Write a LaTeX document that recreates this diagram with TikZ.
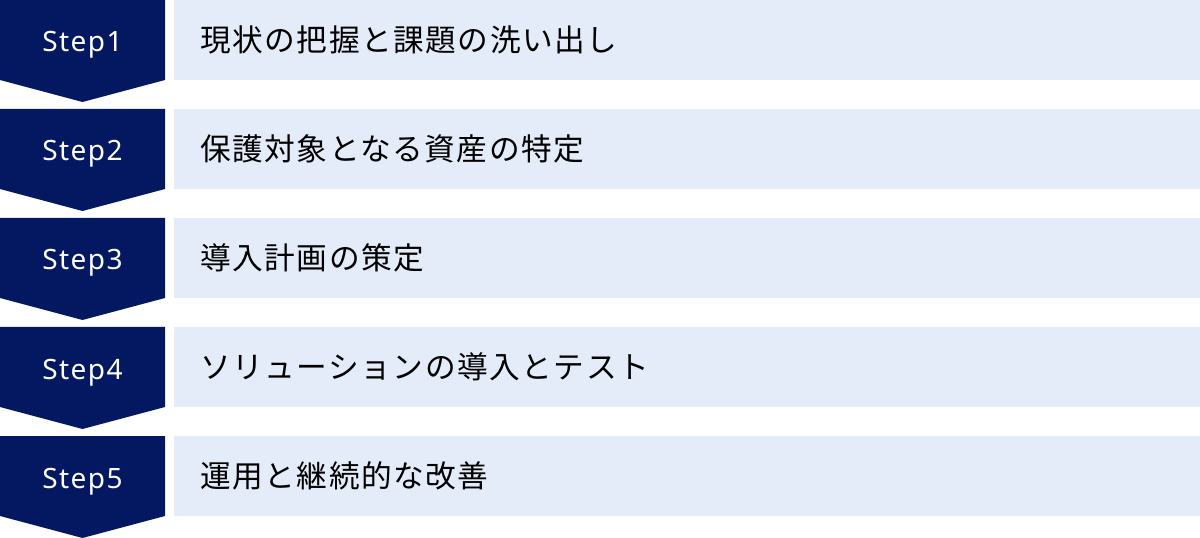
\documentclass[tikz,border=0pt]{standalone}
\usepackage{fontspec}
\setmainfont{Noto Sans}
\newfontfamily\jpfont[LetterSpace=5]{Noto Sans CJK JP}
\newfontfamily\stepfont[LetterSpace=5]{Noto Sans}
\usetikzlibrary{positioning}
\definecolor{stepnavy}{RGB}{3,24,96}
\definecolor{rowblue}{RGB}{229,236,249}
\def\dw{165}
\def\dh{80}
\tikzstyle{chevron}=[fill=stepnavy]
\tikzstyle{rowbox}=[fill=rowblue]
\tikzstyle{steplabel}=[anchor=base,text=white,inner sep=0pt,
  font=\stepfont\fontsize{21pt}{25pt}\selectfont]
\tikzstyle{rowtext}=[anchor=base west,text=black,inner sep=0pt,
  font=\jpfont\fontsize{23pt}{27pt}\selectfont]
\newcommand{\newStep}[4]{%
  \fill[chevron] (0,#4) -- ++(\dw,0) -- ++(0,\dh) -- ++(-82.5,22) -- ++(-82.5,-22) -- cycle;
  \fill[rowbox] (174,#4) rectangle ++(1026,\dh);
  \node[steplabel] (s#1) at (82.5,#4+52) {#2};
  \node[rowtext] (t#1) at (200,#4+51.5) {#3};}

\begin{document}
\begin{tikzpicture}[x=0.75pt,y=-0.75pt]
      \useasboundingbox (0,0) rectangle (1200,538);
      \newStep{1}{Step1}{現状の把握と課題の洗い出し}{0}
      \newStep{2}{Step2}{保護対象となる資産の特定}{109}
      \newStep{3}{Step3}{導入計画の策定}{218}
      \newStep{4}{Step4}{ソリューションの導入とテスト}{327}
      \newStep{5}{Step5}{運用と継続的な改善}{436}
    \end{tikzpicture}
\end{document}
